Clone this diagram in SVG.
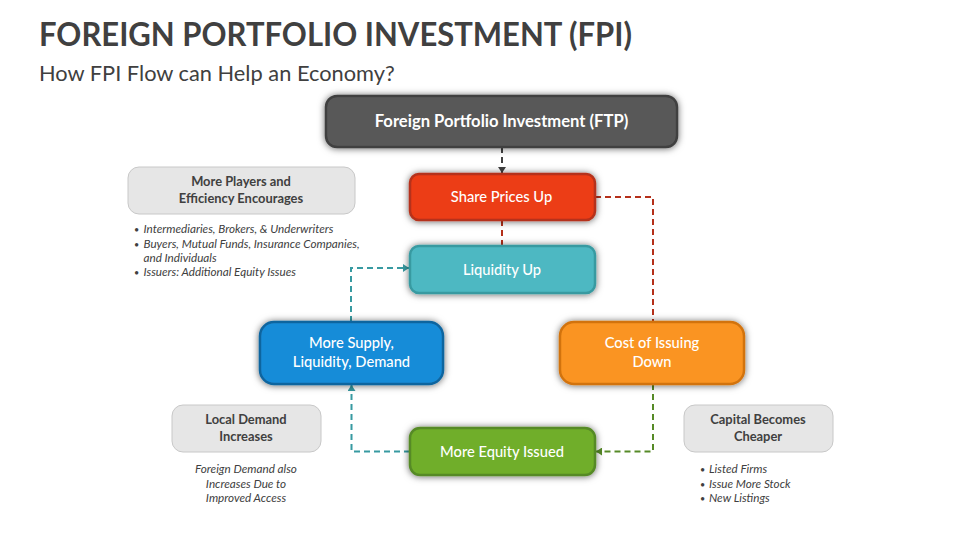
<svg xmlns="http://www.w3.org/2000/svg" width="960" height="540" viewBox="0 0 960 540">
<style>
text{font-family:Lato,"Open Sans","Liberation Sans",sans-serif}
.title{font-size:33px;font-weight:700;fill:#404040}
.sub{font-size:21.800px;fill:#404040}
.n{stroke-width:2.500px;filter:url(#sh)}
.nt{font-size:14.700px;font-weight:500;fill:#fff;text-anchor:middle}
.g{fill:#e6e6e6;stroke:#c8c8c8;stroke-width:1px}
.gt{font-size:12.900px;font-weight:700;fill:#404040;text-anchor:middle}
.it{font-size:11.700px;font-style:italic;fill:#404040}
.b{font-size:9px;font-style:normal}
.c{fill:none;stroke-width:2px;stroke-dasharray:6 4}
</style>
<defs>
<filter id="sh" x="-15%" y="-30%" width="130%" height="160%"><feDropShadow dx="0" dy="0.500" stdDeviation="3.500" flood-color="#000" flood-opacity=".6"/></filter>
<marker id="mk" markerWidth="8" markerHeight="8" refX="6" refY="4" orient="auto" markerUnits="userSpaceOnUse"><path d="M0 0L6 4L0 8Z" fill="#404040"/></marker>
<marker id="mt" markerWidth="8" markerHeight="8" refX="6" refY="4" orient="auto" markerUnits="userSpaceOnUse"><path d="M0 0L6 4L0 8Z" fill="#379aa1"/></marker>
<marker id="mg" markerWidth="8" markerHeight="8" refX="6" refY="4" orient="auto" markerUnits="userSpaceOnUse"><path d="M0 0L6 4L0 8Z" fill="#568a27"/></marker>
</defs>
<text class="title" x="39" y="46" textLength="593" lengthAdjust="spacingAndGlyphs">FOREIGN PORTFOLIO INVESTMENT (FPI)</text>
<text class="sub" x="39" y="81">How FPI Flow can Help an Economy?</text>
<g id="connectors">
<path class="c" stroke="#404040" marker-end="url(#mk)" d="M502 147V173"/>
<path class="c" stroke="#b5301a" d="M502 220V246"/>
<path class="c" stroke="#b5301a" d="M595 197H653V322"/>
<path class="c" stroke="#379aa1" marker-end="url(#mt)" d="M351 322V268H409"/>
<path class="c" stroke="#379aa1" marker-end="url(#mt)" d="M410 451.500H351.500V385"/>
<path class="c" stroke="#568a27" marker-end="url(#mg)" d="M653 384V451.500H596"/>
</g>
<g id="n-fpi"><rect class="n" x="326" y="96" width="351" height="51" rx="11" fill="#595959" stroke="#404040"/><text class="nt" x="501.500" y="126.500" style="font-weight:700;font-size:16.600px">Foreign Portfolio Investment (FTP)</text></g>
<g id="n-share"><rect class="n" x="410" y="174" width="185" height="46" rx="9" fill="#ec3c12" stroke="#b5301a"/><text class="nt" x="501.500" y="202">Share Prices Up</text></g>
<g id="n-liq"><rect class="n" x="410" y="246" width="185" height="47" rx="9" fill="#4db8c2" stroke="#379aa1"/><text class="nt" x="502" y="275">Liquidity Up</text></g>
<g id="n-supply"><rect class="n" x="260" y="322" width="183" height="62" rx="14" fill="#178cd8" stroke="#11659f"/><text class="nt" x="351.500" y="348">More Supply,</text><text class="nt" x="351.500" y="367">Liquidity, Demand</text></g>
<g id="n-cost"><rect class="n" x="560" y="322" width="184" height="62" rx="14" fill="#fa9423" stroke="#d2730d"/><text class="nt" x="652" y="348">Cost of Issuing</text><text class="nt" x="652" y="367">Down</text></g>
<g id="n-equity"><rect class="n" x="410" y="428" width="185" height="47" rx="10" fill="#6fae29" stroke="#568a27"/><text class="nt" x="502" y="457">More Equity Issued</text></g>
<g id="n-players"><rect class="g" x="128" y="167" width="227" height="47" rx="11"/><text class="gt" x="241" y="186">More Players and</text><text class="gt" x="241" y="203">Efficiency Encourages</text>
<text class="it"><tspan class="b" x="134" y="233">•</tspan><tspan x="143.500" y="233">Intermediaries, Brokers, &amp; Underwriters</tspan><tspan class="b" x="134" y="248">•</tspan><tspan x="143.500" y="248">Buyers, Mutual Funds, Insurance Companies,</tspan><tspan x="143.500" y="262">and Individuals</tspan><tspan class="b" x="134" y="276">•</tspan><tspan x="143.500" y="276">Issuers: Additional Equity Issues</tspan></text></g>
<g id="n-local"><rect class="g" x="172" y="405" width="149" height="47" rx="11"/><text class="gt" x="246" y="424">Local Demand</text><text class="gt" x="246" y="441">Increases</text>
<text class="it" text-anchor="middle"><tspan x="246" y="473">Foreign Demand also</tspan><tspan x="246" y="488">Increases Due to</tspan><tspan x="246" y="502">Improved Access</tspan></text></g>
<g id="n-capital"><rect class="g" x="684" y="405" width="149" height="47" rx="11"/><text class="gt" x="758" y="424">Capital Becomes</text><text class="gt" x="758" y="441">Cheaper</text>
<text class="it"><tspan class="b" x="700" y="473">•</tspan><tspan x="709" y="473">Listed Firms</tspan><tspan class="b" x="700" y="488">•</tspan><tspan x="709" y="488">Issue More Stock</tspan><tspan class="b" x="700" y="502">•</tspan><tspan x="709" y="502">New Listings</tspan></text></g>
</svg>
